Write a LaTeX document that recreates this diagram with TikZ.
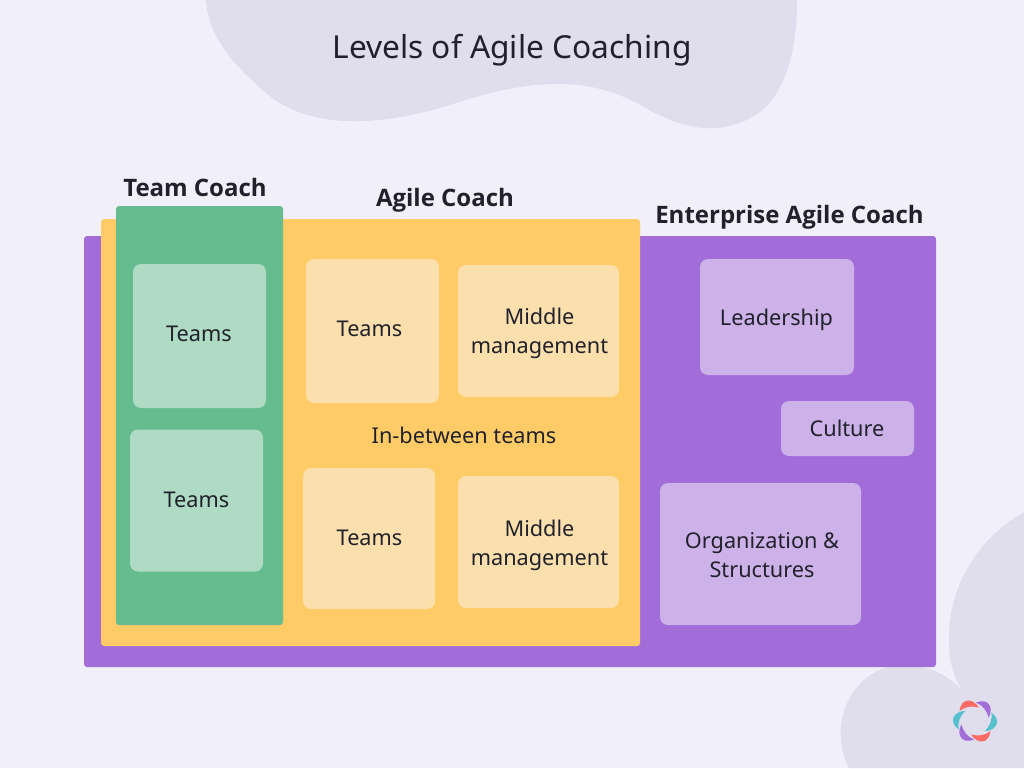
\documentclass[tikz,border=0pt]{standalone}
\usepackage{fontspec}
\setmainfont{Noto Sans}
\newfontfamily\headfont{Open Sans}
\definecolor{bgc}{HTML}{F1EFFA}
\definecolor{blobc}{HTML}{E0DEEC}
\definecolor{purp}{HTML}{A26DD9}
\definecolor{purpl}{HTML}{CDB2E9}
\definecolor{oran}{HTML}{FFCB66}
\definecolor{oranl}{HTML}{FBE0AE}
\definecolor{gree}{HTML}{66BC8F}
\definecolor{greel}{HTML}{AFDBC4}
\definecolor{ink}{HTML}{21212B}
\definecolor{lred}{HTML}{FB6B63}
\definecolor{lteal}{HTML}{56C0CE}
\tikzset{
  x=1pt,y=-1pt,
  panel/.style={inner sep=0pt,outer sep=0pt,rounded corners=3pt,anchor=north west},
  card/.style={inner sep=0pt,outer sep=0pt,rounded corners=8pt,anchor=north west},
  head/.style={inner sep=0pt,text=ink,font=\fontsize{24}{29}\headfont\bfseries},
  lbl/.style={inner sep=0pt,align=center,text=ink,font=\fontsize{21.7}{29}\selectfont},
}
\newcommand{\petal}[2]{\fill[#2,rotate around={#1:(975,721)}] (959.5,711) .. controls (961,698) and (972.5,697.5) .. (979,707.5) .. controls (972,705.5) and (965,706.5) .. (959.5,711) -- cycle;}
\begin{document}
\begin{tikzpicture}
\useasboundingbox (0,0) rectangle (1024,768);
\fill[bgc] (0,0) rectangle (1024,768);
% blobs
\fill[blobc] (206,0) .. controls (208,40) and (240,72) .. (275,100)
  .. controls (320,130) and (385,125) .. (450,105)
  .. controls (510,85) and (580,70) .. (640,105)
  .. controls (680,128) and (720,140) .. (760,112)
  .. controls (790,88) and (797,40) .. (797,0) -- cycle;
\fill[blobc] (1024,512) .. controls (975,540) and (948,590) .. (949,640)
  .. controls (949,665) and (955,680) .. (963,692)
  .. controls (945,670) and (915,660) .. (888,667)
  .. controls (855,676) and (838,710) .. (841,740)
  .. controls (842,752) and (845,760) .. (849,768)
  -- (1024,768) -- cycle;
\node[inner sep=0pt,text=ink,font=\fontsize{31.7}{38}\selectfont] (title) at (512,50.5) {Levels of Agile Coaching};
% panels
\node[panel,fill=purp,minimum width=852pt,minimum height=431pt] (ent) at (84,236) {};
\node[panel,fill=oran,minimum width=539pt,minimum height=427pt] (agile) at (101,219) {};
\node[panel,fill=gree,minimum width=167pt,minimum height=419pt] (team) at (116,206) {};
\node[head] (h1) at (195,187) {Team Coach};
\node[head] (h2) at (445,200) {Agile Coach};
\node[head] (h3) at (789.5,217) {Enterprise Agile Coach};
% cards
\node[card,fill=greel,minimum width=133pt,minimum height=144pt] (t1) at (133,264) {};
\node[card,fill=greel,minimum width=133pt,minimum height=142pt] (t2) at (130,429.5) {};
\node[card,fill=oranl,minimum width=133pt,minimum height=144pt] (a1) at (306,259) {};
\node[card,fill=oranl,minimum width=161pt,minimum height=132pt] (a2) at (458,265) {};
\node[card,fill=oranl,minimum width=132pt,minimum height=141pt] (a3) at (303,468) {};
\node[card,fill=oranl,minimum width=161pt,minimum height=132pt] (a4) at (458,476) {};
\node[card,fill=purpl,minimum width=154pt,minimum height=116pt] (e1) at (700,259) {};
\node[card,fill=purpl,minimum width=133pt,minimum height=55pt] (e2) at (781,401) {};
\node[card,fill=purpl,minimum width=201pt,minimum height=142pt] (e3) at (660,483) {};
% labels
\node[lbl] (lt1) at (199,333.5) {Teams};
\node[lbl] (lt2) at (196.5,499.5) {Teams};
\node[lbl] (la1) at (369.5,328.5) {Teams};
\node[lbl] (la2) at (539.5,333.5) {Middle\\management};
\node[lbl] (la3) at (369.5,537.5) {Teams};
\node[lbl] (la4) at (539.5,545.5) {Middle\\management};
\node[lbl] (lib) at (464,435) {In-between teams};
\node[lbl] (le1) at (776.5,319.5) {Leadership};
\node[lbl] (le2) at (847,428) {Culture};
\node[lbl] (le3) at (762,555) {Organization \&\\Structures};
% logo
\petal{0}{lred}
\petal{-60}{purp}
\petal{-120}{lteal}
\petal{-180}{lred}
\petal{-240}{purp}
\petal{-300}{lteal}
\end{tikzpicture}
\end{document}
